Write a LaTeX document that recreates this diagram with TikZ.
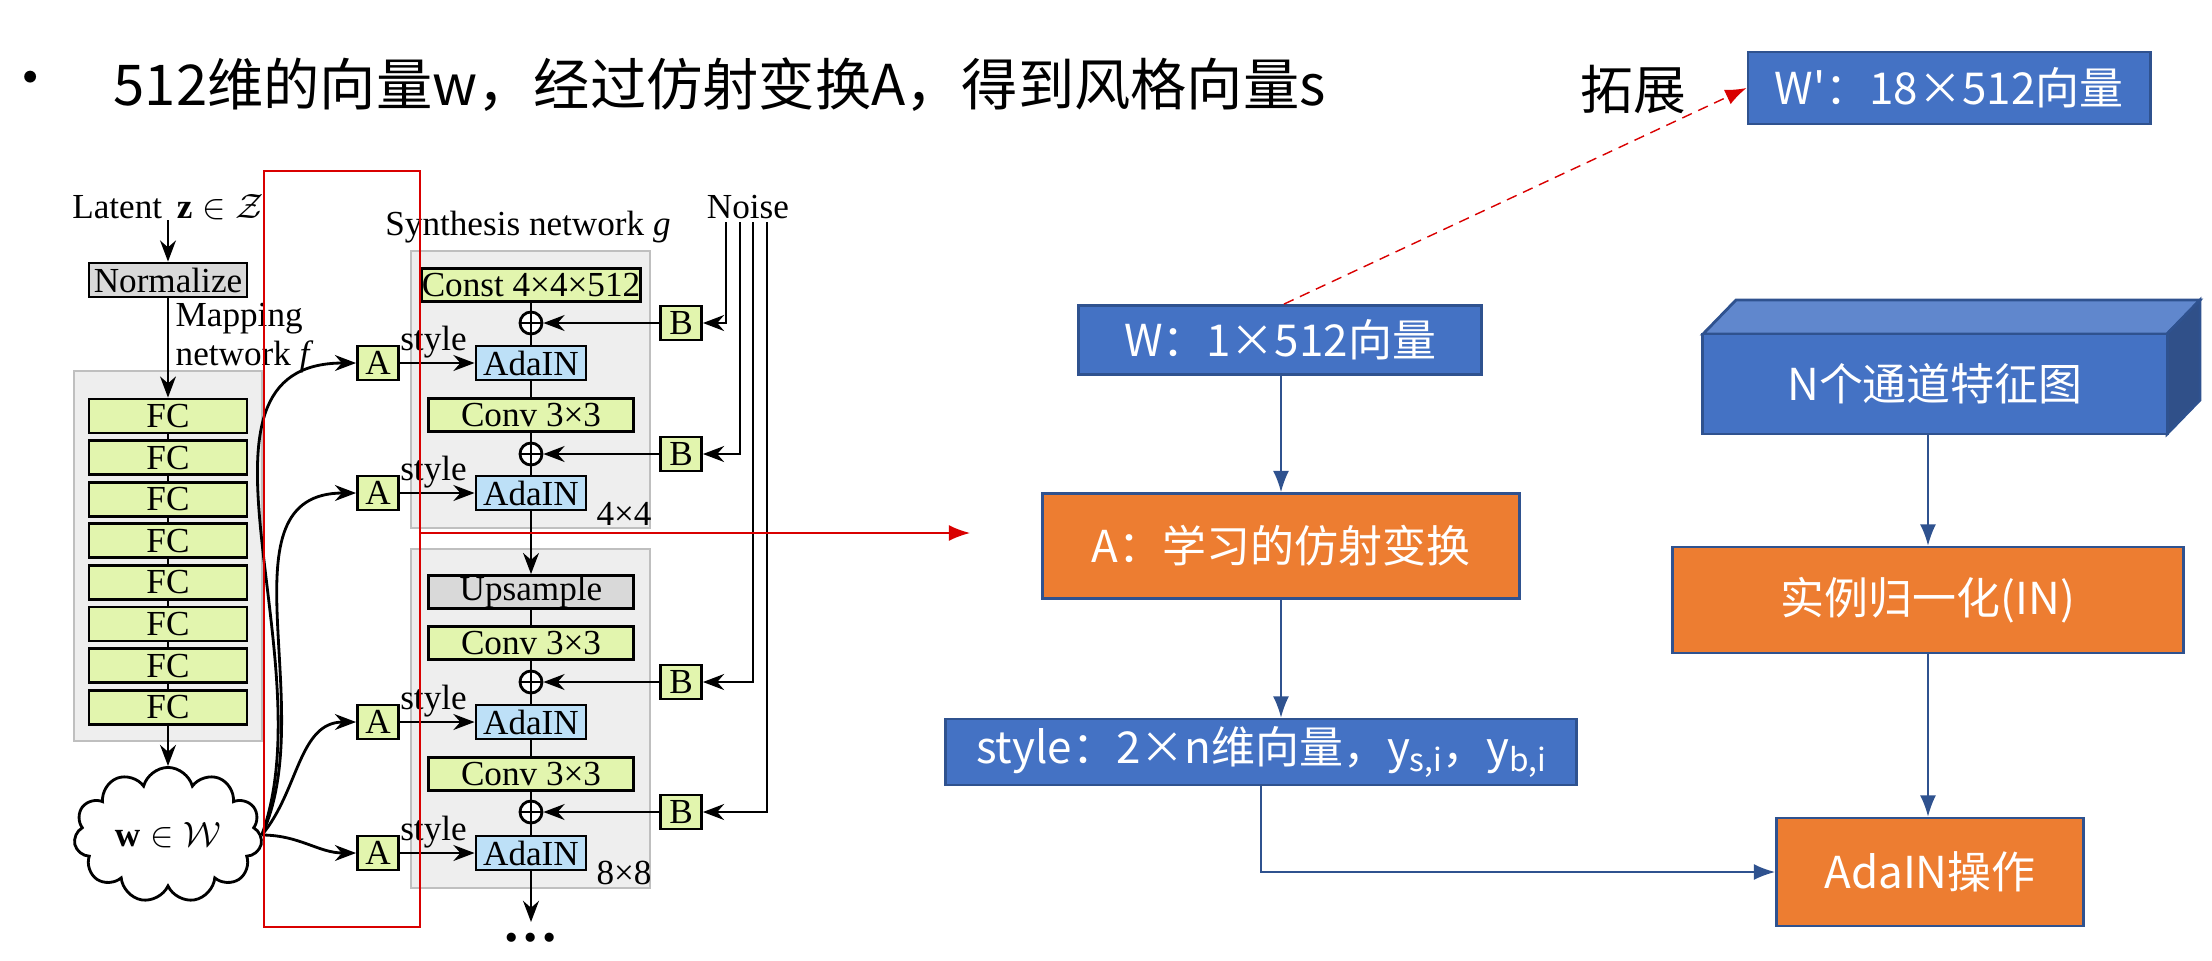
\documentclass[tikz,border=0pt]{standalone}
\usepackage{fontspec}
\setmainfont{Liberation Serif}
\newfontfamily\cjk{Noto Sans CJK SC}
\usetikzlibrary{shapes.symbols,arrows.meta}
\definecolor{boxblue}{HTML}{4472C4}
\definecolor{edgeblue}{HTML}{2F528F}
\definecolor{boxorange}{HTML}{ED7D31}
\definecolor{fcgreen}{HTML}{E2F5AE}
\definecolor{adablue}{HTML}{BDE0F7}
\definecolor{bggray}{HTML}{EEEEEE}
\newcommand{\sbs}[1]{\raisebox{-0.35ex}{\fontsize{9}{10}\selectfont #1}}
\begin{document}
\begin{tikzpicture}[x=0.01cm,y=-0.01cm,
  every node/.style={inner sep=0pt},
  net/.style={font=\fontsize{10}{11}\selectfont},
  fc/.style={net,draw,thick,fill=fcgreen,minimum width=1.58cm,minimum height=0.34cm},
  wide/.style={net,draw,thick,fill=fcgreen,minimum width=2.05cm,minimum height=0.33cm},
  ada/.style={net,draw,thick,fill=adablue,minimum width=1.1cm,minimum height=0.34cm},
  small/.style={net,draw,thick,fill=fcgreen,minimum width=0.41cm,minimum height=0.34cm},
  plus/.style={draw,thick,circle,fill=white,minimum size=0.22cm},
  bg/.style={draw=black!25,fill=bggray},
  arr/.style={-{Stealth[length=6pt]},thick},
  ln/.style={thick},
  bbox/.style={draw=edgeblue,thick,fill=boxblue,text=white,font=\cjk\fontsize{12.5}{15}\selectfont},
  obox/.style={draw=edgeblue,thick,fill=boxorange,text=white,font=\cjk\fontsize{12.5}{15}\selectfont},
  flow/.style={draw=edgeblue,-{Latex[length=6pt]}}]
\useasboundingbox (0,0) rectangle (2212,960);

% title
\node (dot) at (31,85) {\cjk\fontsize{16}{20}\selectfont •};
\node[anchor=west] (title) at (113,85) {\cjk\fontsize{16}{20}\selectfont 512维的向量w，经过仿射变换A，得到风格向量s};

% ---- mapping network ----
\fill[bg] (74,371) rectangle (262,741);
\node[net] (lat) at (168,207) {Latent \,$\mathbf{z}\in\mathcal{Z}$};
\node[net,draw,thick,fill=black!15,minimum width=1.58cm,minimum height=0.34cm] (norm) at (168,280) {Normalize};
\node[net,anchor=north west,align=left] (mapl) at (175,303) {Mapping\\network \textit{f}};
\foreach \i in {1,...,8} {
  \node[fc] (fc\i) at (168,{416+41.6*(\i-1)}) {FC};
}
\foreach \i [evaluate=\i as \j using int(\i+1)] in {1,...,7} {
  \draw[ln] (fc\i) -- (fc\j);
}
\node[cloud,draw,thick,fill=white,cloud puffs=11,aspect=1.4,minimum width=1.88cm,minimum height=1.35cm,net] (w) at (168,835) {$\mathbf{w}\in\mathcal{W}$};
\draw[arr] (lat) -- (norm);
\draw[arr] (norm) -- (fc1);
\draw[arr] (fc8) -- (w);

% ---- synthesis network ----
\fill[bg] (411,251) rectangle (650,528);
\fill[bg] (411,549) rectangle (650,888);
\node[net] (syn) at (528,227) {Synthesis network \textit{g}};
\node[net] (noise) at (748,207) {Noise};
\node[wide] (const) at (531,285) {Const 4×4×512};
\node[plus] (p1) at (531,323) {};
\node[ada] (ad1) at (531,363) {AdaIN};
\node[wide] (cv1) at (531,415) {Conv 3×3};
\node[plus] (p2) at (531,454) {};
\node[ada] (ad2) at (531,493) {AdaIN};
\node[net,anchor=north] (s4) at (624,502) {4×4};
\node[wide,fill=black!15] (up) at (531,592) {Upsample};
\node[wide] (cv2) at (531,643) {Conv 3×3};
\node[plus] (p3) at (531,682) {};
\node[ada] (ad3) at (531,722) {AdaIN};
\node[wide] (cv3) at (531,774) {Conv 3×3};
\node[plus] (p4) at (531,812) {};
\node[ada] (ad4) at (531,853) {AdaIN};
\node[net,anchor=north] (s8) at (624,860) {8×8};
\node[font=\fontsize{16}{16}\selectfont] (dots) at (531,938) {\textbf{…}};
\coordinate (out) at (531,922);
\foreach \k in {1,2,3,4} {
  \node[small] (b\k) at (681,{\ifcase\k\or323\or454\or682\or812\fi}) {B};
  \draw[arr] (b\k) -- (p\k);
  \draw[ln] (p\k.center) ++(-11,0) -- ++(22,0);
  \draw[ln] (p\k.center) ++(0,-11) -- ++(0,22);
}
\draw[ln] (const) -- (p1) -- (ad1) -- (cv1) -- (p2) -- (ad2);
\draw[arr] (ad2) -- (up);
\draw[ln] (up) -- (cv2) -- (p3) -- (ad3) -- (cv3) -- (p4) -- (ad4);
\draw[arr] (ad4) -- (out);
\foreach \k/\x in {1/726,2/740,3/753,4/767} {
  \coordinate (n\k) at (\x,222);
  \draw[arr] (n\k) |- (b\k);
}
\foreach \k/\y in {1/363,2/493,3/722,4/853} {
  \node[small] (a\k) at (378,\y) {A};
  \draw[arr] (a\k) -- node[net,above=1pt,pos=0.45] (st\k) {style} (ad\k);
}
\draw[arr] (w.east) to[out=70,in=180] (a1.west);
\draw[arr] (w.east) to[out=65,in=180] (a2.west);
\draw[arr] (w.east) to[out=50,in=180] (a3.west);
\draw[arr] (w.east) to[out=0,in=180] (a4.west);

% red frame and arrow
\draw[red!85!black,thick] (264,171) rectangle (420,927);
\coordinate (rs) at (420,533);
\coordinate (re) at (970,533);
\draw[red!85!black,-{Latex[length=6pt]}] (rs) -- (re);

% ---- right flow ----
\node[font=\cjk\fontsize{15}{18}\selectfont] (ext) at (1633,89) {拓展};
\node[bbox,minimum width=4.02cm,minimum height=0.72cm] (wp) at (1949,88) {W'：18×512向量};
\node[bbox,minimum width=4.02cm,minimum height=0.69cm] (wv) at (1280,340) {W：1×512向量};
\node[obox,minimum width=4.76cm,minimum height=1.05cm] (aff) at (1281,546) {A：学习的仿射变换};
\node[bbox,minimum width=6.3cm,minimum height=0.66cm] (sty) at (1261,752) {style：2×n维向量，y\sbs{s,i}，y\sbs{b,i}};
\node[obox,minimum width=3.07cm,minimum height=1.08cm] (ada) at (1930,872) {AdaIN操作};
\node[obox,minimum width=5.11cm,minimum height=1.06cm] (inn) at (1928,600) {实例归一化(IN)};
% 3D box
\fill[boxblue!85!white,draw=edgeblue,thick] (1703,334) -- (1736,300) -- (2200,300) -- (2167,334) -- cycle;
\fill[boxblue!70!black,draw=edgeblue,thick] (2167,334) -- (2200,300) -- (2200,400) -- (2167,434) -- cycle;
\node[bbox,minimum width=4.64cm,minimum height=1.0cm] (nb) at (1935,384) {N个通道特征图};

\draw[red!85!black,densely dashed,-{Latex[length=6pt]}] (wv.north) ++(4,0) coordinate (wtop) -- (wp.west);
\draw[flow] (wv.south -| aff.north) -- (aff.north);
\draw[flow] (aff) -- (aff |- sty.north);
\draw[flow] (sty.south) |- (ada.west);
\draw[flow] (nb.south -| inn.north) -- (inn.north);
\draw[flow] (inn) -- (inn |- ada.north);
\end{tikzpicture}
\end{document}
